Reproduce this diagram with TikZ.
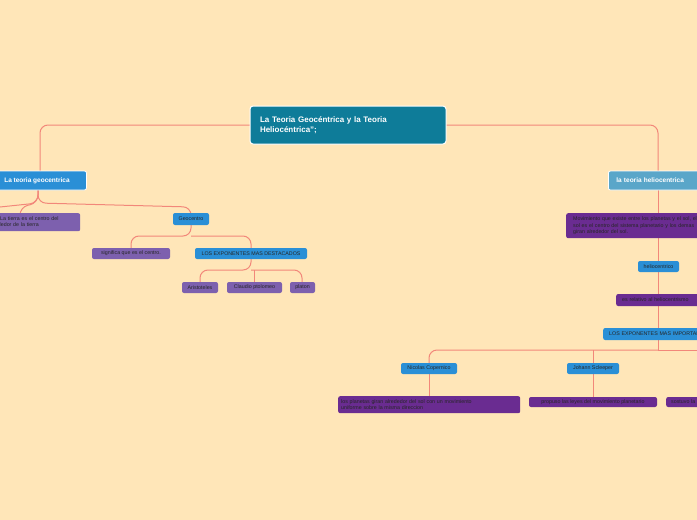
\documentclass[tikz,border=0pt]{standalone}
\usepackage{fontspec}
\setmainfont{Liberation Sans}
\begin{document}
\begin{tikzpicture}[x=1pt,y=-1pt,
  conn/.style={draw=lineC,line width=1pt,rounded corners=8pt},
  bx/.style={rounded corners=2pt,inner sep=0pt,font=\fontsize{5.3}{6.3}\selectfont,text=black!85},
  blueb/.style={bx,fill=blueC},
  purpb/.style={bx,fill=purpC},
  darkb/.style={bx,fill=darkC}]
\definecolor{bgC}{HTML}{FFE6B8}
\definecolor{lineC}{HTML}{F2877A}
\definecolor{rootC}{HTML}{0E7C99}
\definecolor{blueC}{HTML}{2A8FD6}
\definecolor{lightC}{HTML}{5AA6C9}
\definecolor{purpC}{HTML}{7D60AE}
\definecolor{darkC}{HTML}{6A2C91}
\useasboundingbox (0,0) rectangle (697,520);
\clip (0,0) rectangle (697,520);
\fill[bgC] (0,0) rectangle (697,520);
% connectors
\draw[conn] (250,125) -- (40,125) -- (40,171);
\draw[conn] (446,125) -- (658,125) -- (658,171);
\draw[conn] (38,190) -- (38,203) -- (20,207) -- (20,213);
\draw[conn] (38,190) -- (38,203) -- (191,207) -- (191,213);
\draw[conn] (38,190) -- (38,203) -- (0,207);
\draw[conn] (191,225) -- (191,236) -- (131,236) -- (131,248);
\draw[conn] (191,236) -- (251,236) -- (251,248);
\draw[conn] (251,259) -- (251,270) -- (200,270) -- (200,282);
\draw[conn] (251,270) -- (302,270) -- (302,282);
\draw[conn] (254,270) -- (254,282);
\draw[conn] (658,190) -- (658,350);
\draw[conn] (658,350) -- (429,350) -- (429,363);
\draw[conn] (593,350) -- (593,363);
\draw[conn] (697,350) -- (658,350);
\draw[conn] (429,374) -- (429,396);
\draw[conn] (593,374) -- (593,397);
% nodes
\node[bx,fill=rootC,draw=white,line width=1pt,minimum width=196pt,minimum height=38pt,rounded corners=3pt,text=white,font=\fontsize{8}{10}\selectfont\bfseries,align=left,text width=176pt] (root) at (348,125) {La Teoria Geocéntrica y la Teoria\\Heliocéntrica";};
\node[blueb,draw=white,line width=0.8pt,minimum width=99pt,minimum height=19pt,text=white,font=\fontsize{6.5}{8}\selectfont\bfseries] (geo) at (37,180.5) {La teoria geocentrica};
\node[purpb,minimum width=140pt,minimum height=18pt,align=left,text width=136pt,anchor=north west] (gdef) at (-60,213) {\hspace{58pt}La tierra es el centro del\\\hspace{-2pt}universo y todo gira alrededor de la tierra};
\node[blueb,minimum width=36pt,minimum height=12pt] (geoc) at (191,219) {Geocentro};
\node[purpb,minimum width=78pt,minimum height=11pt] (sig) at (131,253.5) {significa que es el centro.};
\node[blueb,minimum width=112pt,minimum height=11pt] (losd) at (251,253.5) {LOS EXPONENTES MAS DESTACADOS};
\node[purpb,minimum width=36pt,minimum height=11pt] (ari) at (200,287.5) {Aristoteles};
\node[purpb,minimum width=55pt,minimum height=11pt] (cla) at (254.5,287.5) {Claudio ptolomeo};
\node[purpb,minimum width=25pt,minimum height=11pt] (pla) at (302.5,287.5) {platon};
\node[bx,fill=lightC,draw=white,line width=0.8pt,minimum width=110pt,minimum height=19pt,text=white,font=\fontsize{6.5}{8}\selectfont\bfseries,anchor=west,text width=102pt,align=left] (hel) at (608,180.5) {\hspace{4pt}la teoria heliocentrica};
\node[darkb,minimum width=160pt,minimum height=25pt,anchor=north west,align=left,text width=154pt] (mov) at (566,213) {\hspace{4pt}Movimiento que existe entre los planetas y el sol, el\\ \hspace{4pt}sol es el centro del sistema planetario y los demas\\ \hspace{4pt}giran alrededor del sol.};
\node[blueb,minimum width=41pt,minimum height=11pt] (hc) at (658.5,266.5) {heliocentrico};
\node[darkb,minimum width=100pt,minimum height=12pt,anchor=west,align=left,text width=96pt] (rel) at (616,300) {\hspace{4pt}es relativo al heliocentrismo};
\node[blueb,minimum width=130pt,minimum height=12pt,anchor=west,align=left,text width=126pt] (losi) at (603,334) {\hspace{4pt}LOS EXPONENTES MAS IMPORTANTES};
\node[blueb,minimum width=56pt,minimum height=11pt] (nic) at (429,368.5) {Nicolas Copernico};
\node[blueb,minimum width=52pt,minimum height=11pt] (joh) at (593,368.5) {Johann Scleeper};
\node[darkb,minimum width=182pt,minimum height=17pt,anchor=north west,align=left,text width=176pt] (np) at (338,396) {los planetas giran alrededor del sol con un movimiento\\uniforme sobre la misma direccion};
\node[darkb,minimum width=128pt,minimum height=10pt] (jp) at (593,402) {propuso las leyes del movimiento planetario};
\node[darkb,minimum width=80pt,minimum height=10pt,anchor=west,align=left,text width=76pt] (sos) at (666,402) {\hspace{3pt}sostuvo la teoria};
\end{tikzpicture}
\end{document}
